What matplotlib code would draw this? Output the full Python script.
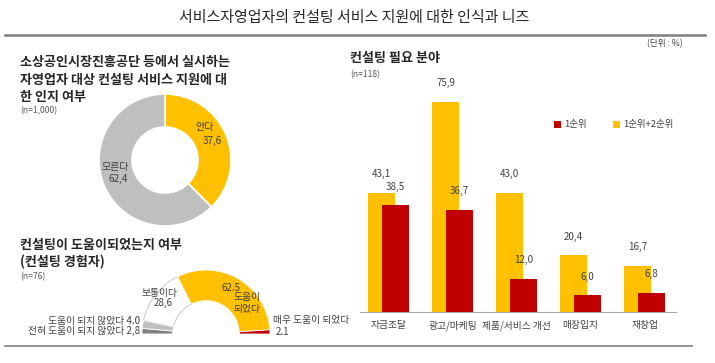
import matplotlib
matplotlib.use("Agg")
import matplotlib.pyplot as plt
from matplotlib.patches import Patch
from matplotlib.lines import Line2D
import numpy as np

plt.rcParams['font.family'] = ['Noto Sans CJK KR', 'DejaVu Sans']

# ---------------- data ----------------
aware_labels = ["안다", "모른다"]
aware_values = [37.6, 62.4]
aware_texts = ["37,6", "62,4"]

help_labels = ["전혀 도움이 되지 않았다", "도움이 되지 않았다", "보통이다", "도움이 되었다", "매우 도움이 되었다"]
help_values = [2.8, 4.0, 28.6, 62.5, 2.1]
help_texts = ["2,8", "4.0", "28,6", "62.5", "2.1"]

categories = ["자금조달", "광고/마케팅", "제품/서비스 개선", "매장입지", "재창업"]
rank1 = [38.5, 36.7, 12.0, 6.0, 6.8]
rank12 = [43.1, 75.9, 43.0, 20.4, 16.7]
series_names = ["1순위", "1순위+2순위"]

YELLOW = "#FFC000"
RED = "#C00000"
GRAY = "#BFBFBF"
DGRAY = "#808080"
TXT = "#404040"

W, H = 715, 363
fig = plt.figure(figsize=(W / 100, H / 100), dpi=100)
fig.patch.set_facecolor("white")


def fx(x):
    return x / W


def fy(y):
    return 1 - y / H


def ptext(x, y, s, **kw):
    kw.setdefault("color", TXT)
    kw.setdefault("va", "center")
    fig.text(fx(x), fy(y), s, **kw)


def axes_px(left, top, width, height):
    return fig.add_axes([fx(left), fy(top + height), width / W, height / H])


# ---------------- frame text & lines ----------------
ptext(354, 18, "서비스자영업자의 컨설팅 서비스 지원에 대한 인식과 니즈", ha="center", fontsize=10.8, color="#262626")
fig.add_artist(Line2D([fx(5), fx(705)], [fy(35), fy(35)], color="#7F7F7F", lw=1.8))
fig.add_artist(Line2D([fx(5), fx(692)], [fy(346), fy(346)], color="#7F7F7F", lw=1.2))
ptext(683, 44, "(단위 : %)", ha="right", fontsize=6.2)

# ---------------- donut: awareness ----------------
TF = 9.4
ptext(20, 62, "소상공인시장진흥공단 등에서 실시하는", ha="left", fontsize=TF, fontweight="bold", color="#262626")
ptext(20, 80, "자영업자 대상 컨설팅 서비스 지원에 대", ha="left", fontsize=TF, fontweight="bold", color="#262626")
ptext(20, 97, "한 인지 여부", ha="left", fontsize=TF, fontweight="bold", color="#262626")
ptext(20, 111, "(n=1,000)", ha="left", fontsize=6.2, color="#595959")

cx, cy, r = 165, 160, 66
ax1 = axes_px(cx - r, cy - r, 2 * r, 2 * r)
ax1.pie(aware_values, colors=[YELLOW, GRAY], startangle=90, counterclock=False,
        radius=1, wedgeprops=dict(width=0.5, edgecolor="white", linewidth=1.2))
ax1.set_xlim(-1, 1)
ax1.set_ylim(-1, 1)
ax1.set_aspect("equal")
ax1.axis("off")
ptext(205, 127, aware_labels[0], ha="center", fontsize=7.2)
ptext(212, 141, aware_texts[0], ha="center", fontsize=7.2)
ptext(115, 167, aware_labels[1], ha="center", fontsize=7.2)
ptext(118, 179, aware_texts[1], ha="center", fontsize=7.2)

# ---------------- semi-donut: helpfulness ----------------
ptext(20, 245, "컨설팅이 도움이되었는지 여부", ha="left", fontsize=TF, fontweight="bold", color="#262626")
ptext(20, 262, "(컨설팅 경험자)", ha="left", fontsize=TF, fontweight="bold", color="#262626")
ptext(20, 277, "(n=76)", ha="left", fontsize=6.2, color="#595959")

scx, scy, sr = 206, 334, 64
ax2 = axes_px(scx - sr, scy - sr, 2 * sr, 2 * sr)
vals = help_values + [sum(help_values)]
cols = [DGRAY, GRAY, "white", YELLOW, RED, "none"]
wedges, _ = ax2.pie(vals, colors=cols, startangle=180, counterclock=False, radius=1,
                    wedgeprops=dict(width=0.48, linewidth=0.6))
edge = ["white", "white", "#BFBFBF", "white", "white", "none"]
for w, e in zip(wedges, edge):
    w.set_edgecolor(e)
wedges[2].set_zorder(0)
ax2.set_xlim(-1, 1)
ax2.set_ylim(-1, 1)
ax2.set_aspect("equal")
ax2.axis("off")

SF = 7
ptext(140, 321, help_labels[1] + " " + help_texts[1], ha="right", fontsize=SF)
ptext(140, 331, help_labels[0] + " " + help_texts[0], ha="right", fontsize=SF)
ptext(159, 293, help_labels[2], ha="center", fontsize=SF)
ptext(163, 303, help_texts[2], ha="center", fontsize=SF)
ptext(231, 288, help_texts[3], ha="center", fontsize=SF)
ptext(247, 297, "도움이", ha="center", fontsize=SF)
ptext(247, 309, "되었다", ha="center", fontsize=SF)
ptext(273, 320, help_labels[4], ha="left", fontsize=SF)
ptext(276, 332, help_texts[4], ha="left", fontsize=SF)

# ---------------- bar chart ----------------
ptext(350, 58, "컨설팅 필요 분야", ha="left", fontsize=TF, fontweight="bold", color="#262626")
ptext(350, 75, "(n=118)", ha="left", fontsize=6.2, color="#595959")

base_y = 312
px_per_unit = 2.77
ymax = 80
top = base_y - ymax * px_per_unit
ax3 = axes_px(360, top, 676 - 360, ymax * px_per_unit)
x = np.arange(len(categories))
bw = 0.42
off = 0.11
b2 = ax3.bar(x - off, rank12, width=bw, color=YELLOW, zorder=2, label=series_names[1])
b1 = ax3.bar(x + off, rank1, width=bw, color=RED, zorder=3, label=series_names[0])
for xi, v in zip(x, rank12):
    ax3.text(xi - off, v + 5, f"{v:.1f}".replace(".", ","), ha="center", va="bottom",
             fontsize=7, color=TXT, zorder=4)
for xi, v in zip(x, rank1):
    ax3.text(xi + off, v + 5, f"{v:.1f}".replace(".", ","), ha="center", va="bottom",
             fontsize=7, color=TXT, zorder=4)
ax3.set_xlim(-0.445, 4.49)
ax3.set_ylim(0, ymax)
for s in ["top", "right", "left"]:
    ax3.spines[s].set_visible(False)
ax3.spines["bottom"].set_color("#A6A6A6")
ax3.spines["bottom"].set_linewidth(0.8)
ax3.set_yticks([])
ax3.set_xticks(x)
ax3.set_xticklabels(categories, fontsize=7, color=TXT)
ax3.tick_params(axis="x", length=0, pad=6)
ax3.patch.set_alpha(0)

handles = [Patch(facecolor=RED), Patch(facecolor=YELLOW)]
fig.legend(handles, series_names, loc="center left", bbox_to_anchor=(fx(545), fy(125)),
           ncol=2, frameon=False, fontsize=6.8, handlelength=0.8, handleheight=0.8,
           handletextpad=0.3, columnspacing=2.8, labelcolor=TXT)

fig.savefig("out.png", dpi=100, facecolor="white")
